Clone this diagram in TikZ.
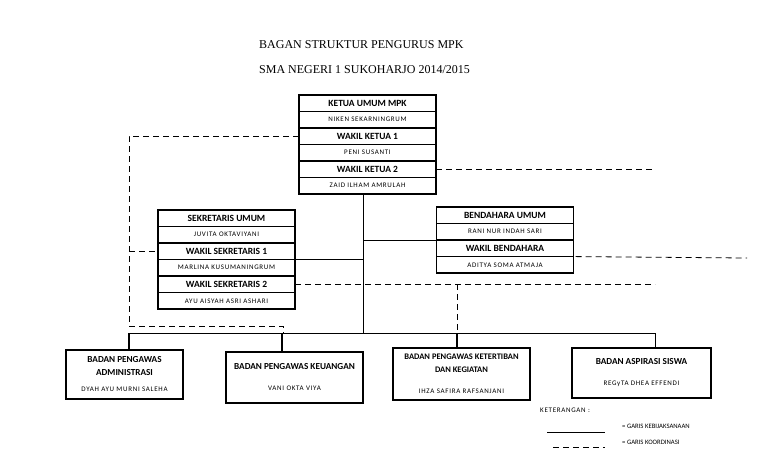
\documentclass[tikz,border=0pt]{standalone}
\usepackage{fontspec}
\setmainfont{Carlito}
\newfontfamily\judulfont{Liberation Serif}
\newfontfamily\namafamily[LetterSpace=10]{Carlito}
\usetikzlibrary{positioning}
\newcommand{\namafont}{\namafamily\mdseries\fontsize{7}{8}\selectfont}

\begin{document}
\begin{tikzpicture}[
  x=1pt, y=-1pt,
  jabatan/.style={draw, line width=1.2pt, inner sep=0pt, outer sep=0pt,
                  minimum width=137pt, minimum height=16.5pt,
                  font=\fontsize{9.5}{10}\selectfont\bfseries},
  nama/.style={draw, line width=0.6pt, inner sep=0pt, outer sep=0pt,
               minimum width=137pt, minimum height=16.5pt,
               font=\namafont},
  badan/.style={draw, line width=1.8pt, align=center, inner sep=0pt,
                font=\fontsize{9.2}{13}\selectfont\bfseries},
  teks/.style={anchor=west, inner sep=0pt, font=\fontsize{6.7}{7}\selectfont},
  kebijakan/.style={line width=0.8pt},
  koordinasi/.style={line width=0.8pt, dash pattern=on 6pt off 4pt},
  bingkai/.style={line width=1.8pt},
]
\useasboundingbox[fill=white] (0,0) rectangle (768,466);

% Judul
\node[anchor=west, inner sep=0pt, font=\judulfont\fontsize{12}{14}\selectfont]
  (judul1) at (259,45) {BAGAN STRUKTUR PENGURUS MPK};
\node[anchor=west, inner sep=0pt, font=\judulfont\fontsize{12}{14}\selectfont]
  (judul2) at (259,70) {SMA NEGERI 1 SUKOHARJO 2014/2015};

% Ketua
\node[jabatan, anchor=north] (k1) at (367.5,95) {KETUA UMUM MPK};
\node[nama, below=0pt of k1] (k2) {NIKEN SEKARNINGRUM};
\node[jabatan, below=0pt of k2] (k3) {WAKIL KETUA 1};
\node[nama, below=0pt of k3] (k4) {PENI SUSANTI};
\node[jabatan, below=0pt of k4] (k5) {WAKIL KETUA 2};
\node[nama, below=0pt of k5] (k6) {ZAID ILHAM AMRULAH};
\draw[bingkai] (k1.north west) rectangle (k6.south east);

% Sekretaris
\begin{scope}[every node/.append style={minimum height=17.3pt}]
\node[jabatan, anchor=north] (s1) at (226.5,210) {SEKRETARIS UMUM};
\node[nama, below=0pt of s1] (s2) {JUVITA OKTAVIYANI};
\node[jabatan, below=0pt of s2] (s3) {WAKIL SEKRETARIS 1};
\node[nama, below=0pt of s3] (s4) {MARLINA KUSUMANINGRUM};
\node[jabatan, below=0pt of s4] (s5) {WAKIL SEKRETARIS 2};
\node[nama, below=0pt of s5] (s6) {AYU AISYAH ASRI ASHARI};
\end{scope}
\draw[bingkai] (s1.north west) rectangle (s6.south east);

% Bendahara
\begin{scope}[every node/.append style={minimum height=16.8pt}]
\node[jabatan, anchor=north] (d1) at (505,207) {BENDAHARA UMUM};
\node[nama, below=0pt of d1] (d2) {RANI NUR INDAH SARI};
\node[jabatan, below=0pt of d2] (d3) {WAKIL BENDAHARA};
\node[nama, below=0pt of d3] (d4) {ADITYA SOMA ATMAJA};
\end{scope}
\draw[bingkai] (d1.north west) rectangle (d4.south east);

% Badan
\node[badan, minimum width=117pt, minimum height=49pt] (b1) at (124.5,374.5)
  {BADAN PENGAWAS\\ADMINISTRASI\\[3pt]{\namafont DYAH AYU MURNI SALEHA}};
\node[badan, minimum width=137pt, minimum height=51pt] (b2) at (294.5,377.5)
  {BADAN PENGAWAS KEUANGAN\\[8pt]{\namafont VANI OKTA VIYA}};
\node[badan, minimum width=137pt, minimum height=52pt,
      font=\fontsize{8.5}{13}\selectfont\bfseries] (b3) at (461.5,374)
  {BADAN PENGAWAS KETERTIBAN\\DAN KEGIATAN\\[8pt]{\namafont IHZA SAFIRA RAFSANJANI}};
\node[badan, minimum width=139pt, minimum height=50pt] (b4) at (641.5,373)
  {BADAN ASPIRASI SISWA\\[8pt]{\namafont REGyTA DHEA EFFENDI}};

% Titik bantu
\coordinate (v0) at (363,333);
\coordinate (v1) at (129,333);
\coordinate (v2) at (282,333);
\coordinate (v3) at (457,333);
\coordinate (v4) at (655,333);
\coordinate (sudut) at (283,326);
\coordinate (ujung) at (747,258);

% Garis kebijakan
\draw[kebijakan] (v0 |- k6.south) -- (v0);
\draw[kebijakan] (v1) -- (v4);
\draw[kebijakan] (v0 |- d2.south) -- (d2.south west);
\draw[bingkai] ([xshift=-27pt]s3.south east) -- (v0 |- s3.south);
\draw[bingkai] (v1) -- (v1 |- b1.north);
\draw[kebijakan, line width=1.4pt] (v2) -- (v2 |- b2.north);
\draw[bingkai] (v3) -- (v3 |- b3.north);
\draw[kebijakan] (v4) -- (v4 |- b4.north);

% Garis koordinasi
\draw[koordinasi] (k3.west) -| (v1 |- sudut) -- (sudut) -- (sudut |- v1);
\draw[koordinasi] (v1 |- s3.west) -- (s3.west);
\draw[koordinasi] (k5.east) -- (v4 |- k5.east);
\draw[koordinasi] (s5.east) -- (v4 |- s5.east);
\draw[koordinasi] (v3 |- s5.east) -- (v3);
\draw[koordinasi] ([xshift=-8pt]d3.south east) -- (ujung);

% Keterangan
\node[teks, font=\namafont] (ket) at (540,410) {KETERANGAN :};
\coordinate (la) at (547,432);
\coordinate (lb) at (605,432);
\coordinate (lc) at (553,447);
\coordinate (ld) at (605,447);
\draw[kebijakan] (la) -- (lb);
\draw[koordinasi] (lc) -- (ld);
\node[teks] (kb) at (622,426) {= GARIS KEBIJAKSANAAN};
\node[teks] (ko) at (622,442) {= GARIS KOORDINASI};
\end{tikzpicture}
\end{document}
